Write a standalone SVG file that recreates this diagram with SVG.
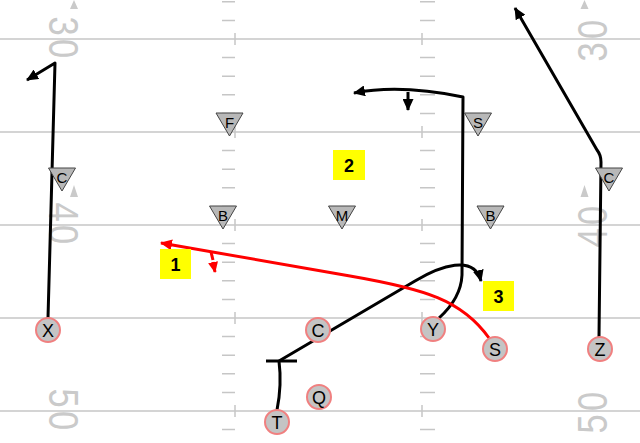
<svg xmlns="http://www.w3.org/2000/svg" width="640" height="443" viewBox="0 0 640 443">
<style>
.yard{stroke:#c6c6c6;stroke-width:1.6;fill:none}
.hash{stroke:#c6c6c6;stroke-width:1.5;fill:none}
.num{font-family:"Liberation Sans",Arial,sans-serif;font-size:42px;fill:#cacaca;letter-spacing:4px}
.numarrow{fill:#cacaca}
.off circle{fill:#c4c4c4;stroke:#f08080;stroke-width:2}
.def path{fill:#b8b8b8;stroke:#444;stroke-width:1}
.lbl{font-family:"Liberation Sans",Arial,sans-serif;fill:#000;text-anchor:middle}
.off text{font-size:18px}
.def text{font-size:15px}
.box rect{fill:#ffff00}
.box text{font-size:18px;font-weight:bold}
.route{fill:none;stroke:#000;stroke-width:3;stroke-linejoin:round}
.red{fill:none;stroke:#ff0000;stroke-width:3}
</style>
<defs>
<marker id="ab" markerUnits="userSpaceOnUse" markerWidth="13" markerHeight="11" refX="11" refY="5.5" orient="auto"><path d="M0,0 L12,5.5 L0,11 Z" fill="#000"/></marker>
<marker id="ar" markerUnits="userSpaceOnUse" markerWidth="13" markerHeight="11" refX="11" refY="5.5" orient="auto"><path d="M0,0 L12,5.5 L0,11 Z" fill="#ff0000"/></marker>
<marker id="ars" markerUnits="userSpaceOnUse" markerWidth="12" markerHeight="10" refX="10" refY="5" orient="auto"><path d="M0,0 L11,5 L0,10 Z" fill="#ff0000"/></marker>
</defs>
<g id="field">
<path class="yard" d="M0,39 H640 M0,132 H640 M0,225 H640 M0,318 H640 M0,411 H640"/>
<path class="hash" d="M222,1.8H235 M222,20.4H235 M222,57.6H235 M222,76.2H235 M222,94.8H235 M222,113.4H235 M222,150.6H235 M222,169.2H235 M222,187.8H235 M222,206.4H235 M222,243.6H235 M222,262.2H235 M222,280.8H235 M222,299.4H235 M222,336.6H235 M222,355.2H235 M222,373.8H235 M222,392.4H235 M222,429.6H235 M235,33V45 M235,126V138 M235,219V231 M235,312V324 M235,405V417"/>
<path class="hash" d="M420,1.8H435 M420,20.4H435 M420,57.6H435 M420,76.2H435 M420,94.8H435 M420,113.4H435 M420,150.6H435 M420,169.2H435 M420,187.8H435 M420,206.4H435 M420,243.6H435 M420,262.2H435 M420,280.8H435 M420,299.4H435 M420,336.6H435 M420,355.2H435 M420,373.8H435 M420,392.4H435 M420,429.6H435 M422,33V45 M422,126V138 M422,219V231 M422,312V324 M422,405V417"/>
<text class="num" text-anchor="middle" transform="translate(49,39) rotate(90) scale(0.82,1)">30</text>
<text class="num" text-anchor="middle" transform="translate(49,225) rotate(90) scale(0.82,1)">40</text>
<text class="num" text-anchor="middle" transform="translate(49,411) rotate(90) scale(0.82,1)">50</text>
<text class="num" text-anchor="middle" transform="translate(607,39) rotate(-90) scale(0.82,1)">30</text>
<text class="num" text-anchor="middle" transform="translate(607,225) rotate(-90) scale(0.82,1)">40</text>
<text class="num" text-anchor="middle" transform="translate(607,411) rotate(-90) scale(0.82,1)">50</text>
<path class="numarrow" d="M74,0 L78,9 L70,9 Z M74,185 L78,197 L70,197 Z M584.5,0 L588.5,9 L580.5,9 Z M584.5,185 L588.5,197 L580.5,197 Z"/>
</g>
<g id="connectors">
<path class="route" d="M48,318 L55,63 L27,80" marker-end="url(#ab)"/>
<path class="route" d="M599,337 L601,162 Q601,155 597,150 L515,8" marker-end="url(#ab)"/>
<path class="route" d="M439,318 Q461,298 462,275 L463,97 Q400,84 354,93" marker-end="url(#ab)"/>
<path class="route" d="M408,92 L408,110" marker-end="url(#ab)"/>
<path class="route" d="M277,410 Q282,385 279,361"/>
<path class="route" d="M266,361 L297,361"/>
<path class="route" d="M279,361 L415,281 C440,266 474,254 481,281" marker-end="url(#ab)"/>
<path class="red" d="M489,338 C462,300 425,289 350,276 L161,243" marker-end="url(#ar)"/>
<path class="red" d="M211,252 L213,260"/>
<path class="red" d="M213,262 L215,272" stroke-width="2" marker-end="url(#ars)"/>
</g>
<g id="X" class="off"><circle cx="48" cy="330" r="12"/><text class="lbl" x="48" y="336.5">X</text></g>
<g id="C-off" class="off"><circle cx="318" cy="330" r="12"/><text class="lbl" x="318" y="336.5">C</text></g>
<g id="Q" class="off"><circle cx="319" cy="397" r="12"/><text class="lbl" x="319" y="403.5">Q</text></g>
<g id="T" class="off"><circle cx="277" cy="422" r="12"/><text class="lbl" x="277" y="428.5">T</text></g>
<g id="Y" class="off"><circle cx="433" cy="329" r="12"/><text class="lbl" x="433" y="335.5">Y</text></g>
<g id="S-off" class="off"><circle cx="495" cy="349" r="12"/><text class="lbl" x="495" y="355.5">S</text></g>
<g id="Z" class="off"><circle cx="600" cy="349" r="12"/><text class="lbl" x="600" y="355.5">Z</text></g>
<g id="F" class="def"><path d="M216,113 H243 L229.5,136 Z"/><text class="lbl" x="229.5" y="128">F</text></g>
<g id="B-left" class="def"><path d="M209.5,206 H236.5 L223,229 Z"/><text class="lbl" x="223" y="221">B</text></g>
<g id="M" class="def"><path d="M328.5,206 H355.5 L342,229 Z"/><text class="lbl" x="342" y="221">M</text></g>
<g id="S-def" class="def"><path d="M464.5,113 H491.5 L478,136 Z"/><text class="lbl" x="478" y="128">S</text></g>
<g id="B-right" class="def"><path d="M477,206 H504 L490.5,229 Z"/><text class="lbl" x="490.5" y="221">B</text></g>
<g id="C-left" class="def"><path d="M48.5,168 H75.5 L62,191 Z"/><text class="lbl" x="62" y="183">C</text></g>
<g id="C-right" class="def"><path d="M595.5,168 H622.5 L609,191 Z"/><text class="lbl" x="609" y="183">C</text></g>
<g id="label-1" class="box"><rect x="160" y="249" width="31" height="30"/><text class="lbl" x="175.5" y="270.5">1</text></g>
<g id="label-2" class="box"><rect x="333" y="150" width="32" height="30"/><text class="lbl" x="349" y="171.5">2</text></g>
<g id="label-3" class="box"><rect x="483" y="281" width="31" height="30"/><text class="lbl" x="498.5" y="302.5">3</text></g>
</svg>
